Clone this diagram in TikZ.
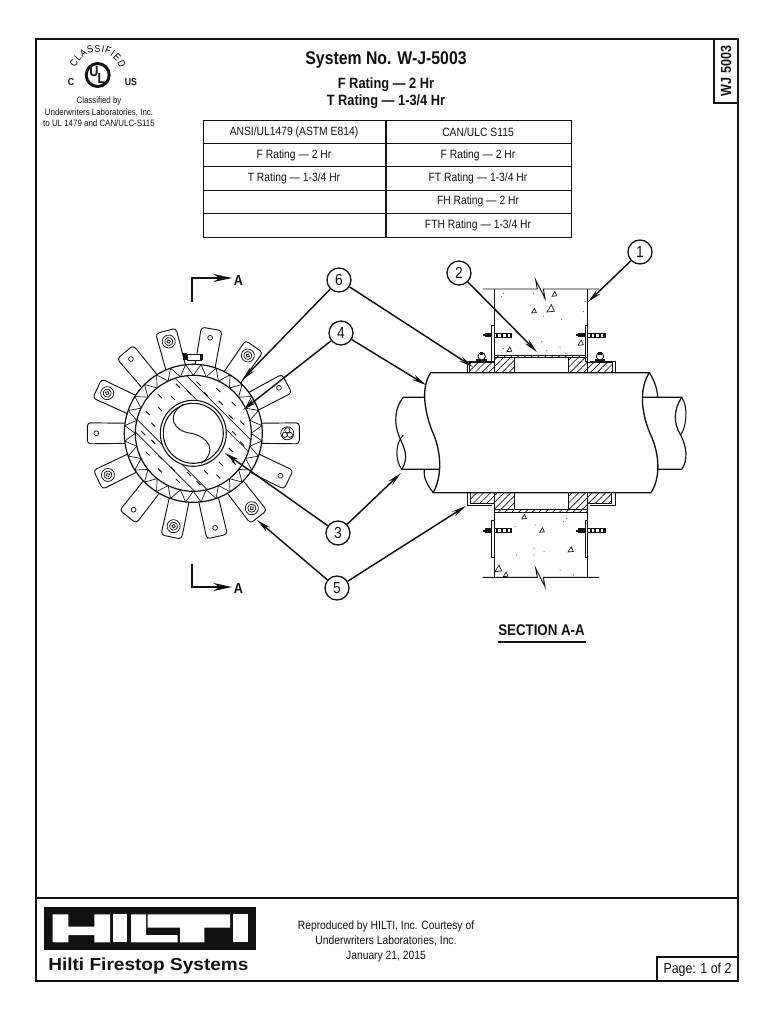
\documentclass[tikz,border=0pt]{standalone}
\usepackage{fontspec}
\setmainfont[FakeStretch=0.86]{Liberation Sans}
\newfontfamily\widefont[FakeStretch=1.1]{Liberation Sans}
\usetikzlibrary{arrows.meta,patterns.meta,decorations.text}
\definecolor{ink}{HTML}{111111}
\tikzset{
  every node/.style={text=ink,inner sep=0pt},
  frame/.style={draw=ink,line width=1.5pt},
  tbl/.style={draw=ink,line width=.7pt},
  cell/.style={font=\fontsize{9}{10}\selectfont,anchor=center},
  line/.style={draw=ink,line width=.7pt},
  thin line/.style={draw=ink,line width=.5pt},
  hatch/.style={pattern={Lines[angle=45,distance=3.6pt,line width=.5pt]},pattern color=ink},
  callout/.style={circle,draw=ink,line width=1pt,fill=white,minimum size=18pt,font=\fontsize{12}{12}\selectfont},
  lead/.style={draw=ink,line width=1.1pt,-{Stealth[length=11pt,width=4.2pt]}},
  hole/.style={draw=ink,line width=.55pt,fill=white},
  tri/.style={draw=ink,line width=.5pt},
  boltpic/.pic={
    \fill[ink] (-28,-7) rectangle (-8,7);
    \fill[ink] (-34,-3) rectangle (-28,3);
    \draw[line,fill=white] (-8,-30) rectangle (0,80);
    \draw[line,fill=white] (0,-6) rectangle (52,6);
    \fill[ink] (6,-6) rectangle (12,6);
    \fill[ink] (20,-6) rectangle (26,6);
    \fill[ink] (34,-6) rectangle (40,6);
    \fill[ink] (46,-6) rectangle (52,6);
  }
}
\begin{document}
\begin{tikzpicture}[x=.75pt,y=-.75pt]
\useasboundingbox (0,0) rectangle (768,1024);
\fill[white] (0,0) rectangle (768,1024);
% frame
\draw[frame] (36,39) rectangle (738,981);
\draw[frame] (36,898) -- (738,898);
\draw[frame] (714,39) rectangle (738,103);
\draw[frame] (657,957) rectangle (738,981);
\node[rotate=90,font=\fontsize{11}{12}\bfseries\selectfont] (wj) at (726,71) {WJ 5003};
\node[font=\fontsize{10.8}{12}\selectfont] (page) at (697.5,969.5) {Page: 1 of 2};
% titles
\node[font=\fontsize{13.8}{15}\bfseries\selectfont] (title) at (386,60) {System No. W-J-5003};
\node[font=\fontsize{11.2}{12}\bfseries\selectfont] (fr) at (386,85) {F Rating — 2 Hr};
\node[font=\fontsize{11.2}{12}\bfseries\selectfont] (tr) at (386,102) {T Rating — 1-3/4 Hr};
% table
\draw[tbl] (203,120) rectangle (571,237);
\foreach \yy in {143,166,190,213} \draw[tbl] (203,\yy) -- (571,\yy);
\draw[draw=ink,line width=1.1pt] (386,120) -- (386,237);
\node[cell] (t1) at (294,132) {ANSI/UL1479 (ASTM E814)};
\node[cell] (t2) at (478,132) {CAN/ULC S115};
\node[cell] (t3) at (294,155) {F Rating — 2 Hr};
\node[cell] (t4) at (478,155) {F Rating — 2 Hr};
\node[cell] (t5) at (294,178) {T Rating — 1-3/4 Hr};
\node[cell] (t6) at (478,178) {FT Rating — 1-3/4 Hr};
\node[cell] (t7) at (478,201) {FH Rating — 2 Hr};
\node[cell] (t8) at (478,225) {FTH Rating — 1-3/4 Hr};
% UL logo
\begin{scope}[shift={(97.7,75)},y=.75pt]
  \draw[ink,line width=2.2pt] (0,0) circle (11.5);
  \path[decorate,decoration={text along path,text align={fit to path},
     text={|\fontsize{7.6}{8}\selectfont|CLASSIFIED}}] (162:23) arc (162:18:23);
\end{scope}
\node[font=\fontsize{11}{11}\bfseries\selectfont] (ulu) at (94,72) {U};
\node[font=\fontsize{11}{11}\bfseries\selectfont] (ull) at (101.5,78) {L};
\node[font=\fontsize{7.6}{8}\bfseries\selectfont] (ulc) at (71,82) {C};
\node[font=\fontsize{7.6}{8}\bfseries\selectfont] (ulus) at (131,82) {US};
\node[font=\fontsize{6.9}{8.4}\selectfont,align=center,anchor=north] (ulcap) at (99,97) {Classified by\\Underwriters Laboratories, Inc.\\to UL 1479 and CAN/ULC-S115};
% plan view
\begin{scope}[shift={(193.3,433.3)},y=.75pt]
  \foreach \a/\k in {28/s,80/s,130/s,180/s,232/s,283/s,334/s,55/b,105/b,155/b,206/b,258/b,308/b,0/c}{
    \begin{scope}[rotate=\a]
      \draw[line,fill=white,rounded corners=2.5pt] (62,-10) -- (106,-10.5) -- (106,10.5) -- (62,10) -- cycle;
      \if\k s \draw[hole] (97,0) circle (2.4);\fi
      \if\k b \draw[hole] (95,0) circle (6.5); \draw[hole] (95,0) circle (4); \draw[hole] (95,0) circle (1.8);\fi
      \if\k c \draw[hole] (94,0) circle (6.5); \draw[hole] (94,3) circle (2.6); \draw[hole] (91.5,-1.5) circle (2.6); \draw[hole] (96.5,-1.5) circle (2.6);\fi
    \end{scope}}
  \draw[line,fill=white,line width=.9pt] (0,0) circle (69);
  \foreach \k in {0,...,27}
    \draw[thin line] (\k*12.857:58) -- (\k*12.857+6.43:69) -- (\k*12.857+12.857:58);
  \draw[line,fill=white,line width=.9pt] (0,0) circle (58);
  \begin{scope}
    \clip (0,0) circle (58);
    \foreach \o in {36,26,-40,-30}
      \draw[thin line] (45:\o) ++(-45:-70) -- ++(-45:140);
  \end{scope}
  \foreach \r/\s in {41/0,50/12}
    \foreach \k in {0,...,14}
      \draw[line] (\k*24+\s:\r) ++(-45:-2.8) -- ++(-45:5.6);
  \draw[line,fill=white,line width=.8pt] (0,0) circle (33);
  \draw[line,line width=.8pt] (0,0) circle (30);
  \draw[line] (-10,29) .. controls (-28,18) and (-20,2) .. (-2,0) .. controls (16,-4) and (24,-18) .. (8,-30);
  % clamp screw
  \draw[line,fill=white] (-6,73) rectangle (8,79);
  \fill[ink] (-10,73) rectangle (-6,80);
  \fill[ink] (7,73) rectangle (10,79);
\end{scope}
% section marks
\coordinate (mark1) at (192,302);
\coordinate (mark1c) at (192,278);
\coordinate (mark1e) at (232,278);
\coordinate (mark2) at (192,564);
\coordinate (mark2c) at (192,587);
\coordinate (mark2e) at (232,587);
\draw[line width=1.1pt,draw=ink,-{Stealth[length=14pt,width=6pt]}] (mark1) -- (mark1c) -- (mark1e);
\draw[line width=1.1pt,draw=ink,-{Stealth[length=14pt,width=6pt]}] (mark2) -- (mark2c) -- (mark2e);
\node[font=\fontsize{11}{12}\bfseries\selectfont] (a1) at (238.5,280) {A};
\node[font=\fontsize{11}{12}\bfseries\selectfont] (a2) at (238.5,588) {A};
% section view
\begin{scope}[shift={(390,240)},x=.25pt,y=-.25pt]
  % wall
  \draw[line] (278,147) -- (442,147) -- (437,120) -- (465,175) -- (460,147) -- (628,147);
  \draw[line] (278,1012) -- (442,1012) -- (437,985) -- (465,1040) -- (460,1012) -- (628,1012);
  \draw[line] (313,147) -- (313,345) (593,147) -- (593,345);
  \draw[line] (313,816) -- (313,1012) (593,816) -- (593,1012);
  % aggregate
  \foreach \xx/\yy/\ss in {493/162/7,482/205/11,432/212/7,358/328/7,572/308/8,402/830/7,456/870/7,542/928/8,325/985/10,347/1003/7}
    \draw[tri] (\xx-\ss,\yy+\ss) -- (\xx+\ss,\yy+\ss*.8) -- (\xx+\ss*.2,\yy-\ss) -- cycle;
  \foreach \xx/\yy in {335/170,340/160,430/160,462/175,420/195,515/238,460/228,585/185,580/215,455/305,470/332,510/322,528/340,340/325,375/860,435/855,520/845,380/945,432/925,462/935,432/945,510/990,550/1005,545/925,530/835}
    \fill[ink] (\xx,\yy) circle (1.5);
  % sleeve
  \draw[line,hatch] (313,345) rectangle (593,352);
  \draw[line,hatch] (313,808) rectangle (593,816);
  % brackets and bolts
  \pic at (313,285) {boltpic};
  \begin{scope}[shift={(593,285)},xscale=-1]
    \pic at (0,0) {boltpic};
  \end{scope}
  \begin{scope}[shift={(313,872)},yscale=-1]
    \pic at (0,0) {boltpic};
  \end{scope}
  \begin{scope}[shift={(593,872)},xscale=-1,yscale=-1]
    \pic at (0,0) {boltpic};
  \end{scope}
  % small pipes
  \draw[line,line width=.9pt,fill=white] (110,472) -- (40,472) .. controls (15,500) and (10,550) .. (28,590) .. controls (40,620) and (60,650) .. (35,688) -- (160,688) -- cycle;
  \draw[line,line width=.8pt] (40,585) .. controls (15,610) and (15,660) .. (35,688);
  \draw[line,line width=.9pt,fill=white] (750,472) -- (875,472) .. controls (850,510) and (850,550) .. (872,585) .. controls (890,620) and (895,660) .. (875,688) -- (800,688) -- cycle;
  \draw[line,line width=.8pt] (875,472) .. controls (895,500) and (890,560) .. (872,585);
  % pipe back lenses
  \draw[line,line width=.9pt] (130,758) .. controls (112,735) and (100,715) .. (103,688);
  \draw[line,line width=.9pt] (778,398) .. controls (792,420) and (802,445) .. (803,472);
  % big pipe
  \draw[line,line width=1pt,fill=white] (122,398) -- (778,398) .. controls (750,440) and (750,510) .. (780,580) .. controls (800,620) and (820,700) .. (783,758) -- (130,758) .. controls (165,690) and (145,610) .. (125,570) .. controls (100,500) and (95,440) .. (122,398) -- cycle;
  % collars
  \draw[line,hatch] (238,368) rectangle (313,398);
  \draw[line,hatch] (313,352) rectangle (372,398);
  \draw[line,hatch] (535,352) rectangle (593,398);
  \draw[line,hatch] (593,368) rectangle (668,398);
  \draw[line,hatch] (240,758) rectangle (313,790);
  \draw[line,hatch] (313,758) rectangle (372,808);
  \draw[line,hatch] (535,758) rectangle (593,808);
  \draw[line,hatch] (593,758) rectangle (665,790);
  \draw[line] (232,398) -- (232,364) -- (305,364);
  \draw[line] (600,364) -- (675,364) -- (675,398);
  \draw[line] (232,758) -- (232,796) -- (305,796);
  \draw[line] (600,796) -- (675,796) -- (675,758);
  % anchors on collars
  \foreach \nx in {275,630}{
    \fill[ink] (\nx-16,358) rectangle (\nx+16,364);
    \draw[line,fill=white] (\nx,349) circle (11);
    \fill[ink] (\nx-5,336) rectangle (\nx+5,346);
  }
\end{scope}
% section label
\node[font=\fontsize{11.6}{12}\bfseries\selectfont] (sec) at (541.5,630) {SECTION A-A};
\draw[line width=1pt,draw=ink] (498,642) -- (586,642);
% callouts
\node[callout] (c1) at (640,252) {1};
\node[callout] (c2) at (459,273) {2};
\node[callout] (c3) at (338,533) {3};
\node[callout] (c4) at (341,333) {4};
\node[callout] (c5) at (337,588) {5};
\node[callout] (c6) at (339,280) {6};
\coordinate (p1) at (588,302);
\coordinate (p2) at (537,352);
\coordinate (p3l) at (225,453);
\coordinate (p3r) at (401,473);
\coordinate (p4l) at (243,410);
\coordinate (p4r) at (426,385);
\coordinate (p5l) at (257,520);
\coordinate (p5r) at (466,506);
\coordinate (p6l) at (242,380);
\coordinate (p6r) at (473,367);
\draw[lead] (c1) -- (p1);
\draw[lead] (c2) -- (p2);
\draw[lead] (c3) -- (p3l);
\draw[lead] (c3) -- (p3r);
\draw[lead] (c4) -- (p4l);
\draw[lead] (c4) -- (p4r);
\draw[lead] (c5) -- (p5l);
\draw[lead] (c5) -- (p5r);
\draw[lead] (c6) -- (p6l);
\draw[lead] (c6) -- (p6r);
% Hilti logo
\begin{scope}[shift={(36,895)},x=.25pt,y=-.25pt]
  \fill[ink] (25,35) rectangle (660,165);
  \fill[white] (50,58) -- (97,58) -- (97,95) -- (175,95) -- (175,58) -- (222,58) -- (222,142) -- (175,142) -- (175,120) -- (97,120) -- (97,142) -- (50,142) -- cycle;
  \fill[white] (232,58) rectangle (272,142);
  \fill[white] (285,58) -- (330,58) -- (330,120) -- (425,120) -- (425,142) -- (285,142) -- cycle;
  \fill[white] (335,58) -- (582,58) -- (582,98) -- (505,98) -- (505,142) -- (432,142) -- (432,98) -- (335,98) -- cycle;
  \fill[white] (590,58) rectangle (635,142);
\end{scope}
\node[font=\widefont\fontsize{13}{14}\bfseries\selectfont,anchor=west] (hfs) at (48,966) {Hilti Firestop Systems};
\node[font=\fontsize{9}{11.2}\selectfont,align=center] (repro) at (386,941) {Reproduced by HILTI, Inc. Courtesy of\\Underwriters Laboratories, Inc.\\January 21, 2015};
\end{tikzpicture}
\end{document}
